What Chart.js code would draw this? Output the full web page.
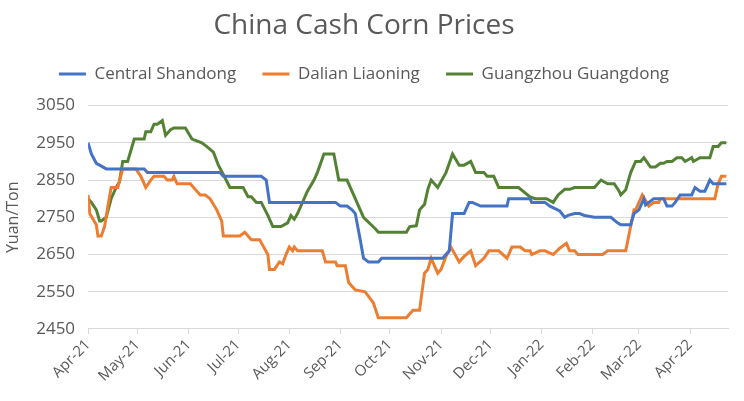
<!DOCTYPE html>
<html>
<head>
<meta charset="utf-8">
<script src="https://cdn.jsdelivr.net/npm/chart.js@4"></script>
<style>
  html, body { margin: 0; padding: 0; background: #fff; }
  #wrap { width: 744px; height: 401px; }
</style>
</head>
<body>
<div id="wrap"><canvas id="chart"></canvas></div>
<script>
// x = days since 1 Apr 2021
const monthDays = [0, 30, 61, 91, 122, 153, 183, 214, 244, 275, 306, 334, 365];
const monthLabels = ['Apr-21', 'May-21', 'Jun-21', 'Jul-21', 'Aug-21', 'Sep-21', 'Oct-21',
    'Nov-21', 'Dec-21', 'Jan-22', 'Feb-22', 'Mar-22', 'Apr-22'];

const shandongDays = [0, 1, 2, 5, 7, 11, 34, 36, 80, 82, 105, 108, 110, 150, 153, 157, 160, 162, 165, 167, 170, 176, 178,
    215, 217, 219, 221, 228, 231, 233, 238, 254, 255, 268, 269, 277, 280, 286, 289, 291, 295, 298, 301, 307, 317, 321,
    323, 329, 331, 334, 337, 338, 343, 349, 351, 354, 356, 359, 366, 368, 371, 374, 377, 379, 387];
const shandongPrices = [2950, 2935, 2920, 2895, 2890, 2880, 2880, 2870, 2870, 2860, 2860, 2850, 2790, 2790, 2780, 2780, 2770, 2760, 2690, 2640, 2630, 2630, 2640,
    2640, 2650, 2660, 2760, 2760, 2790, 2790, 2780, 2780, 2800, 2800, 2790, 2790, 2780, 2767, 2750, 2755, 2760, 2760, 2755, 2750, 2750, 2735,
    2730, 2730, 2760, 2770, 2800, 2783, 2800, 2800, 2780, 2780, 2790, 2810, 2810, 2830, 2820, 2820, 2850, 2840, 2840];

const dalianDays = [0, 1, 5, 6, 8, 10, 12, 14, 18, 21, 29, 32, 35, 38, 40, 46, 48, 51, 52, 54, 60, 62, 68, 71, 74, 78, 81, 82,
    92, 95, 99, 104, 109, 110, 113, 116, 118, 120, 122, 124, 125, 127, 142, 144, 150, 151, 156, 158, 162, 168, 173, 176,
    193, 197, 201, 204, 206, 208, 212, 214, 217, 220, 225, 228, 232, 235, 240, 243, 249, 254, 257, 262, 265, 268, 269,
    274, 277, 282, 286, 290, 292, 295, 297, 312, 315, 326, 331, 332, 336, 340, 343, 346, 347, 380, 382, 384, 387];
const dalianPrices = [2810, 2760, 2730, 2700, 2700, 2725, 2780, 2830, 2830, 2880, 2880, 2860, 2830, 2850, 2860, 2860, 2850, 2850, 2860, 2840, 2840, 2840, 2810, 2810, 2800, 2770, 2740, 2700,
    2700, 2710, 2690, 2690, 2650, 2610, 2610, 2630, 2625, 2650, 2670, 2660, 2670, 2660, 2660, 2630, 2630, 2620, 2620, 2575, 2555, 2550, 2520, 2480,
    2480, 2500, 2500, 2600, 2610, 2640, 2600, 2610, 2645, 2670, 2630, 2645, 2660, 2620, 2640, 2660, 2660, 2640, 2670, 2670, 2660, 2660, 2650,
    2660, 2660, 2650, 2667, 2680, 2660, 2660, 2650, 2650, 2660, 2660, 2770, 2770, 2810, 2780, 2790, 2790, 2800, 2800, 2840, 2860, 2860];

const guangzhouDays = [0, 2, 5, 7, 8, 11, 14, 17, 19, 21, 24, 26, 28, 34, 35, 38, 40, 42, 45, 47, 50, 52, 59, 61, 63, 69, 72,
    76, 79, 82, 86, 94, 97, 99, 102, 105, 109, 112, 117, 121, 123, 125, 127, 133, 137, 139, 143, 149, 152, 157, 161, 167,
    174, 176, 193, 195, 199, 201, 204, 206, 208, 212, 217, 221, 225, 228, 232, 235, 240, 242, 246, 249, 261, 268, 271,
    278, 282, 285, 289, 292, 295, 307, 311, 315, 319, 322, 323, 326, 329, 332, 335, 337, 341, 344, 347, 349, 351, 354,
    357, 360, 362, 366, 367, 371, 377, 379, 382, 384, 387];
const guangzhouPrices = [2800, 2790, 2770, 2740, 2740, 2750, 2800, 2830, 2845, 2900, 2900, 2930, 2960, 2960, 2980, 2980, 3000, 3000, 3010, 2970, 2985, 2990, 2990, 2975, 2960, 2950, 2940,
    2925, 2890, 2865, 2830, 2830, 2805, 2805, 2790, 2790, 2755, 2725, 2725, 2735, 2755, 2745, 2760, 2820, 2850, 2870, 2920, 2920, 2850, 2850, 2810, 2750,
    2720, 2710, 2710, 2725, 2727, 2770, 2785, 2825, 2850, 2830, 2870, 2920, 2890, 2890, 2900, 2870, 2870, 2860, 2860, 2830, 2830, 2805, 2800,
    2800, 2790, 2810, 2825, 2825, 2830, 2830, 2850, 2840, 2840, 2820, 2810, 2824, 2870, 2900, 2900, 2910, 2885, 2885, 2895, 2895, 2900, 2900,
    2910, 2910, 2900, 2910, 2900, 2910, 2910, 2940, 2940, 2950, 2950];

const toPoints = (days, prices) => days.map((d, i) => ({ x: d, y: prices[i] }));

const FONT = '"Open Sans", sans-serif';
const TEXT = '#595959';

function series(label, days, prices, color) {
    return {
        label,
        data: toPoints(days, prices),
        borderColor: color,
        backgroundColor: color,
        borderWidth: 3,
        pointRadius: 0,
        tension: 0,
    };
}

// extra room under the legend, like the Excel original
const legendGap = {
    id: 'legendGap',
    beforeInit(chart) {
        const fit = chart.legend.fit;
        chart.legend.fit = function () {
            fit.bind(chart.legend)();
            this.height += 13;
        };
    },
};

new Chart(document.getElementById('chart'), {
    type: 'line',
    data: {
        datasets: [
            series('Central Shandong', shandongDays, shandongPrices, '#4472C4'),
            series('Dalian Liaoning', dalianDays, dalianPrices, '#ED7D31'),
            series('Guangzhou Guangdong', guangzhouDays, guangzhouPrices, '#548235'),
        ],
    },
    plugins: [legendGap],
    options: {
        responsive: true,
        maintainAspectRatio: false,
        animation: false,
        layout: { padding: { left: 0, right: 16, top: 0, bottom: 14 } },
        plugins: {
            title: {
                display: true,
                text: 'China Cash Corn Prices',
                color: TEXT,
                font: { family: FONT, size: 28, weight: 'normal' },
                padding: { top: 9, bottom: 10 },
            },
            legend: {
                position: 'top',
                labels: {
                    color: TEXT,
                    font: { family: FONT, size: 17 },
                    boxWidth: 27,
                    boxHeight: 3,
                    padding: 13,
                    generateLabels(chart) {
                        const items = Chart.defaults.plugins.legend.labels.generateLabels(chart);
                        items.forEach((it, i) => {
                            it.lineWidth = 0;
                            if (i < items.length - 1) it.text += '   ';
                        });
                        return items;
                    },
                },
            },
            tooltip: { enabled: false },
        },
        scales: {
            x: {
                type: 'linear',
                min: 0,
                max: 388,
                afterBuildTicks: (axis) => { axis.ticks = monthDays.map((v) => ({ value: v })); },
                ticks: {
                    color: TEXT,
                    font: { family: FONT, size: 15 },
                    minRotation: 45,
                    maxRotation: 45,
                    padding: 2,
                    callback: (v) => monthLabels[monthDays.indexOf(v)],
                },
                grid: { display: true, drawOnChartArea: false, drawTicks: true, tickLength: 5, color: '#d9d9d9' },
                border: { display: true, color: '#d9d9d9' },
            },
            y: {
                min: 2450,
                max: 3050,
                ticks: {
                    stepSize: 100,
                    color: TEXT,
                    font: { family: FONT, size: 17 },
                    padding: 13,
                    callback: (v) => String(v),
                },
                grid: { color: '#d9d9d9', drawTicks: false },
                border: { display: false },
                title: {
                    display: true,
                    text: 'Yuan/Ton',
                    color: TEXT,
                    font: { family: FONT, size: 16 },
                    padding: { top: 4, bottom: 0 },
                },
            },
        },
    },
});
</script>
</body>
</html>
